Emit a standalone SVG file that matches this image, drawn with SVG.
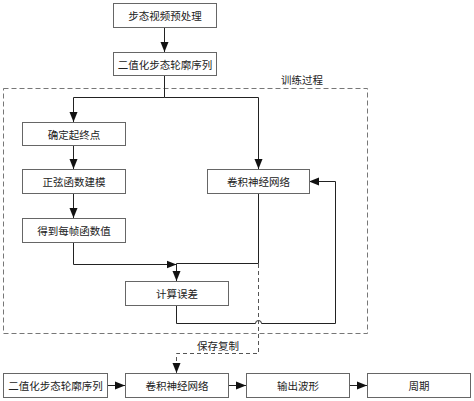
<svg xmlns="http://www.w3.org/2000/svg" width="474" height="401" viewBox="0 0 474 401">
<defs>
<marker id="arr" viewBox="0 0 10 10" refX="10" refY="5" markerWidth="10" markerHeight="10" markerUnits="userSpaceOnUse" orient="auto">
<path d="M0,1 L10,5 L0,9 Z" fill="#111"/>
</marker>
<style>
.box{fill:#fff;stroke:#666;stroke-width:1}
.t{font-family:"Noto Sans CJK SC","Noto Sans",sans-serif;font-size:10.5px;fill:#222;text-anchor:middle;dominant-baseline:central}
.l{fill:none;stroke:#222;stroke-width:1}
.d{fill:none;stroke:#555;stroke-width:1;stroke-dasharray:4,3}
</style>
</defs>
<rect width="474" height="401" fill="#fff"/>
<g id="train-region">
<rect x="3.5" y="88.5" width="364" height="245" fill="none" stroke="#777" stroke-width="1" stroke-dasharray="5,3"/>
<text class="t" x="302" y="79">训练过程</text>
</g>
<g id="connectors">
<path class="l" d="M164.5,27 V52" marker-end="url(#arr)"/>
<path class="l" d="M164.5,75 V97.5 H73.5 V122" marker-end="url(#arr)"/>
<path class="l" d="M164.5,97.5 H258.5 V169" marker-end="url(#arr)"/>
<path class="l" d="M73.5,145 V169" marker-end="url(#arr)"/>
<path class="l" d="M73.5,193 V218" marker-end="url(#arr)"/>
<path class="l" d="M73.5,242 V264.5 H176.5" marker-end="url(#arr)"/>
<path class="l" d="M258.5,193 V263.5 H176.5 V281" marker-end="url(#arr)"/>
<path class="l" d="M176.5,305 V323.5 H255.5 A3,3 0 0 1 261.5,323.5 H335.5 V181.5 H309" marker-end="url(#arr)"/>
<path class="d" d="M258.5,264 V353.5 H176.5 V373" marker-end="url(#arr)"/>
<text class="t" x="218" y="345">保存复制</text>
<path class="l" d="M107,385.5 H125" marker-end="url(#arr)"/>
<path class="l" d="M228,385.5 H246" marker-end="url(#arr)"/>
<path class="l" d="M349,385.5 H367" marker-end="url(#arr)"/>
</g>
<g id="n1"><rect class="box" x="113.5" y="3.5" width="103" height="24"/><text class="t" x="165" y="15.5">步态视频预处理</text></g>
<g id="n2"><rect class="box" x="113.5" y="52.5" width="103" height="23"/><text class="t" x="165" y="64">二值化步态轮廓序列</text></g>
<g id="n3"><rect class="box" x="22.5" y="122.5" width="103" height="23"/><text class="t" x="74" y="134">确定起终点</text></g>
<g id="n4"><rect class="box" x="22.5" y="169.5" width="103" height="24"/><text class="t" x="74" y="181.5">正弦函数建模</text></g>
<g id="n5"><rect class="box" x="22.5" y="218.5" width="103" height="24"/><text class="t" x="74" y="230.5">得到每帧函数值</text></g>
<g id="n6"><rect class="box" x="207.5" y="169.5" width="102" height="24"/><text class="t" x="258.5" y="181.5">卷积神经网络</text></g>
<g id="n7"><rect class="box" x="125.5" y="281.5" width="103" height="24"/><text class="t" x="177" y="293.5">计算误差</text></g>
<g id="n8"><rect class="box" x="3.5" y="373.5" width="104" height="24"/><text class="t" x="55.5" y="385.5">二值化步态轮廓序列</text></g>
<g id="n9"><rect class="box" x="125.5" y="373.5" width="103" height="24"/><text class="t" x="177" y="385.5">卷积神经网络</text></g>
<g id="n10"><rect class="box" x="246.5" y="373.5" width="103" height="24"/><text class="t" x="298" y="385.5">输出波形</text></g>
<g id="n11"><rect class="box" x="367.5" y="373.5" width="103" height="24"/><text class="t" x="419" y="385.5">周期</text></g>
</svg>
